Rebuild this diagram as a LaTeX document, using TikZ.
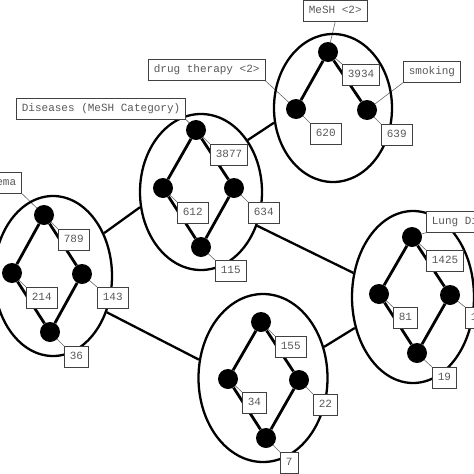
\documentclass[tikz,border=0pt]{standalone}
\usepackage{fontspec}
\newfontfamily\lmono{Liberation Mono}
\usetikzlibrary{shapes.geometric,backgrounds}
\begin{document}
\begin{tikzpicture}[x=1pt,y=-1pt,
  oval/.style={ellipse, draw, line width=2.3pt, inner sep=0pt},
  dot/.style={circle, fill=black, inner sep=0pt, minimum size=20pt},
  edge/.style={line width=2.8pt},
  link/.style={line width=2.3pt},
  tag/.style={draw=black!75, line width=0.7pt, fill=white, text=black!65,
    font=\lmono\fontsize{11}{11}\selectfont, inner xsep=5.5pt, inner ysep=0pt,
    minimum height=21pt, text height=7pt, text depth=2pt, anchor=north west},
  lead/.style={draw=black!60, line width=0.6pt}]
\useasboundingbox (0,0) rectangle (474,474);
\clip (0,0) rectangle (474,474);
% groups
\node[oval, minimum width=118pt, minimum height=148pt] (E1) at (333,108) {};
\node[oval, minimum width=122pt, minimum height=156pt] (E2) at (201,192) {};
\node[oval, minimum width=118pt, minimum height=160pt] (E3) at (53,276) {};
\node[oval, minimum width=129pt, minimum height=168pt] (E4) at (263,378) {};
\node[oval, minimum width=122pt, minimum height=172pt] (E5) at (413,297) {};
% links between groups
\draw[link] (E2.48) -- (E1.194);
\draw[link] (E3.40) -- (E2.194);
\draw[link] (E2.329) -- (E5.158);
\draw[link] (E3.326) -- (E4.164);
\draw[link] (E4.27) -- (E5.208);
% dots
\node[dot] (a1t) at (328,52) {};
\node[dot] (a1l) at (296,109) {};
\node[dot] (a1r) at (367,110) {};
\node[dot] (a2t) at (196,130) {};
\node[dot] (a2l) at (163,188) {};
\node[dot] (a2r) at (234,188) {};
\node[dot] (a2b) at (201,247) {};
\node[dot] (a3t) at (44,215) {};
\node[dot] (a3l) at (12,273) {};
\node[dot] (a3r) at (82,274) {};
\node[dot] (a3b) at (50,332) {};
\node[dot] (a4t) at (261,322) {};
\node[dot] (a4l) at (228,379) {};
\node[dot] (a4r) at (299,380) {};
\node[dot] (a4b) at (266,438) {};
\node[dot] (a5t) at (412,237) {};
\node[dot] (a5l) at (379,294) {};
\node[dot] (a5r) at (450,295) {};
\node[dot] (a5b) at (417,353) {};
% labels
\node[tag] (mesh) at (303,0) {MeSH <2>};
\node[tag] (t3934) at (342,64) {3934};
\node[tag] (smoking) at (403,61) {smoking};
\node[tag] (drug) at (148,59) {drug therapy <2>};
\node[tag] (t620) at (310,123) {620};
\node[tag] (t639) at (381,124) {639};
\node[tag] (dis) at (16,98) {Diseases (MeSH Category)};
\node[tag] (t3877) at (210,144) {3877};
\node[tag] (t612) at (177,202) {612};
\node[tag] (t634) at (248,202) {634};
\node[tag] (t115) at (215,260) {115};
\node[tag, anchor=north east] (emph) at (22,172) {Emphysema};
\node[tag] (t789) at (58,229) {789};
\node[tag] (t214) at (26,287) {214};
\node[tag] (t143) at (97,287) {143};
\node[tag] (t36) at (64,346) {36};
\node[tag] (t155) at (275,336) {155};
\node[tag] (t34) at (242,392) {34};
\node[tag] (t22) at (313,394) {22};
\node[tag] (t7) at (280,452) {7};
\node[tag] (lung) at (426,211) {Lung Diseases};
\node[tag] (t1425) at (426,250) {1425};
\node[tag] (t81) at (393,307) {81};
\node[tag] (t1x) at (465,307) {1};
\node[tag] (t19) at (432,367) {19};
\begin{pgfonlayer}{background}
% edges
\draw[edge] (a1t) -- (a1l);
\draw[edge] (a1t) -- (a1r);
\draw[edge] (a2t) -- (a2l);
\draw[edge] (a2t) -- (a2r);
\draw[edge] (a2l) -- (a2b);
\draw[edge] (a2r) -- (a2b);
\draw[edge] (a3t) -- (a3l);
\draw[edge] (a3t) -- (a3r);
\draw[edge] (a3l) -- (a3b);
\draw[edge] (a3r) -- (a3b);
\draw[edge] (a4t) -- (a4l);
\draw[edge] (a4t) -- (a4r);
\draw[edge] (a4l) -- (a4b);
\draw[edge] (a4r) -- (a4b);
\draw[edge] (a5t) -- (a5l);
\draw[edge] (a5t) -- (a5r);
\draw[edge] (a5l) -- (a5b);
\draw[edge] (a5r) -- (a5b);
% leads
\draw[lead] (mesh.south) -- (a1t.center);
\draw[lead] (a1t.center) -- (t3934.north west);
\draw[lead] (smoking.south west) -- (a1r.center);
\draw[lead] (drug.south east) -- (a1l.center);
\draw[lead] (a1l.center) -- (t620.north west);
\draw[lead] (a1r.center) -- (t639.north west);
\draw[lead] (dis.south east) -- (a2t.center);
\draw[lead] (a2t.center) -- (t3877.north west);
\draw[lead] (a2l.center) -- (t612.north west);
\draw[lead] (a2r.center) -- (t634.north west);
\draw[lead] (a2b.center) -- (t115.north west);
\draw[lead] (emph.south east) -- (a3t.center);
\draw[lead] (a3t.center) -- (t789.north west);
\draw[lead] (a3l.center) -- (t214.north west);
\draw[lead] (a3r.center) -- (t143.north west);
\draw[lead] (a3b.center) -- (t36.north west);
\draw[lead] (a4t.center) -- (t155.north west);
\draw[lead] (a4l.center) -- (t34.north west);
\draw[lead] (a4r.center) -- (t22.north west);
\draw[lead] (a4b.center) -- (t7.north west);
\draw[lead] (lung.south west) -- (a5t.center);
\draw[lead] (a5t.center) -- (t1425.north west);
\draw[lead] (a5l.center) -- (t81.north west);
\draw[lead] (a5r.center) -- (t1x.north west);
\draw[lead] (a5b.center) -- (t19.north west);
\end{pgfonlayer}
\end{tikzpicture}
\end{document}
